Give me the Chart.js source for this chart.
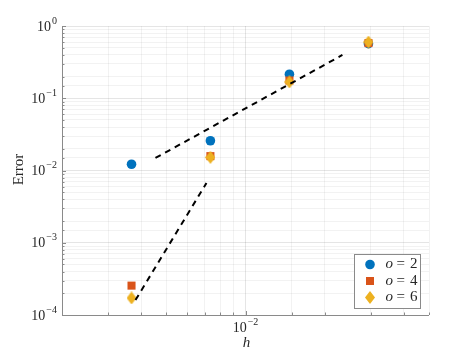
<!DOCTYPE html>
<html>
<head>
<meta charset="utf-8">
<script src="https://cdn.jsdelivr.net/npm/chart.js@4.4.1/dist/chart.umd.min.js"></script>
<style>
html,body{margin:0;padding:0;background:#fff;}
#wrap{width:474px;height:355px;position:relative;}
</style>
</head>
<body>
<div id="wrap"><canvas id="c" width="474" height="355"></canvas></div>
<script>
// ---- data ----
const hValues = [3.68e-3, 7.35e-3, 1.47e-2, 2.94e-2];
const errO2 = [0.0122, 0.0258, 0.215, 0.57];
const errO4 = [2.55e-4, 0.0158, 0.176, 0.58];
const errO6 = [1.72e-4, 0.0152, 0.168, 0.60];
const seriesLabels = ['2', '4', '6'];
const refLine2H = [4.54e-3, 2.34e-2];
const refLine2E = [0.0149, 0.397];
const refLine6H = [3.81e-3, 7.1e-3];
const refLine6E = [1.61e-4, 6.71e-3];
const yTickExps = [0, -1, -2, -3, -4];
const xTickExps = [-2];

const BLUE = '#0072BD', ORANGE = '#D95319', YELLOW = '#EDB120';
const SERIF = '"Liberation Serif", "DejaVu Serif", serif';

function diamondImg(w, h, color) {
  const c = document.createElement('canvas');
  c.width = w; c.height = h;
  const g = c.getContext('2d');
  g.fillStyle = color;
  g.beginPath();
  g.moveTo(w / 2, 0); g.lineTo(w, h / 2); g.lineTo(w / 2, h); g.lineTo(0, h / 2);
  g.closePath(); g.fill();
  return c;
}
const diamond = diamondImg(10, 13, YELLOW);

function pts(xs, ys) { return xs.map((x, i) => ({x: x, y: ys[i]})); }

function isMajor(v) {
  const l = Math.log10(v);
  return Math.abs(l - Math.round(l)) < 1e-6;
}

const customDraw = {
  id: 'customDraw',
  afterDraw(chart) {
    const ctx = chart.ctx;
    const xs = chart.scales.x, ys = chart.scales.y;
    const a = chart.chartArea;
    ctx.save();
    // axis lines
    ctx.strokeStyle = '#8a8a8a';
    ctx.lineWidth = 1;
    ctx.beginPath();
    ctx.moveTo(a.left + 0.5, a.top); ctx.lineTo(a.left + 0.5, a.bottom + 0.5);
    ctx.lineTo(a.right, a.bottom + 0.5);
    ctx.stroke();
    // inner ticks
    ctx.beginPath();
    ys.ticks.forEach(t => {
      const p = Math.round(ys.getPixelForValue(t.value)) + 0.5;
      const len = isMajor(t.value) ? 4 : 2.5;
      ctx.moveTo(a.left, p); ctx.lineTo(a.left + len, p);
    });
    xs.ticks.forEach(t => {
      const p = Math.round(xs.getPixelForValue(t.value)) + 0.5;
      const len = isMajor(t.value) ? 4 : 2.5;
      ctx.moveTo(p, a.bottom); ctx.lineTo(p, a.bottom - len);
    });
    ctx.stroke();
    // tick labels with superscripts
    ctx.fillStyle = '#262626';
    function sup(exp, x, y, align) {
      ctx.font = '14px ' + SERIF;
      const base = '10';
      ctx.font = '10px ' + SERIF;
      const e = exp === 0 ? '0' : '\u2212' + Math.abs(exp);
      const ew = ctx.measureText(e).width;
      ctx.font = '14px ' + SERIF;
      const bw = ctx.measureText(base).width;
      let x0;
      if (align === 'right') x0 = x - bw - ew - 1;
      else x0 = x - (bw + ew + 1) / 2;
      ctx.textBaseline = 'middle';
      ctx.textAlign = 'left';
      ctx.fillText(base, x0, y);
      ctx.font = '10px ' + SERIF;
      ctx.fillText(e, x0 + bw + 1, y - 6);
    }
    yTickExps.forEach(k => {
      sup(k, a.left - 5, ys.getPixelForValue(Math.pow(10, k)) + 1, 'right');
    });
    xTickExps.forEach(k => {
      sup(k, xs.getPixelForValue(Math.pow(10, k)), a.bottom + 13, 'center');
    });
    // axis titles
    ctx.font = '15px ' + SERIF;
    ctx.textAlign = 'center';
    ctx.textBaseline = 'middle';
    ctx.save();
    ctx.translate(19, (a.top + a.bottom) / 2 - 1);
    ctx.rotate(-Math.PI / 2);
    ctx.fillText('Error', 0, 0);
    ctx.restore();
    ctx.font = 'italic 15px ' + SERIF;
    ctx.fillText('h', (a.left + a.right) / 2 + 1, 343);
    // legend
    const lx = 354, ly = 254, lw = 66, lh = 54;
    ctx.fillStyle = '#fff';
    ctx.fillRect(lx, ly, lw, lh);
    ctx.strokeStyle = '#8a8a8a';
    ctx.strokeRect(lx + 0.5, ly + 0.5, lw, lh);
    const rows = [264.5, 281, 297.5];
    const mx = 370;
    // circle
    ctx.fillStyle = BLUE;
    ctx.beginPath(); ctx.arc(mx, rows[0], 4.8, 0, Math.PI * 2); ctx.fill();
    ctx.fillStyle = ORANGE;
    ctx.fillRect(mx - 4, rows[1] - 4, 8, 8);
    ctx.drawImage(diamond, mx - 5, rows[2] - 6.5);
    ctx.fillStyle = '#262626';
    rows.forEach((ry, i) => {
      ctx.textAlign = 'left';
      ctx.textBaseline = 'middle';
      ctx.font = 'italic 15px ' + SERIF;
      ctx.fillText('o', 385.5, ry);
      ctx.font = '15px ' + SERIF;
      ctx.fillText('=', 396.5, ry);
      ctx.fillText(seriesLabels[i], 410, ry);
    });
    ctx.restore();
  }
};

const gridColor = ctx => {
  const v = ctx.tick && ctx.tick.value;
  return v && isMajor(v) ? 'rgba(0,0,0,0.10)' : 'rgba(0,0,0,0.05)';
};

new Chart(document.getElementById('c'), {
  type: 'scatter',
  data: {
    datasets: [
      {label: 'ref2', data: pts(refLine2H, refLine2E), showLine: true, borderColor: '#000', borderWidth: 2, borderDash: [6, 5], pointRadius: 0, order: 0},
      {label: 'ref6', data: pts(refLine6H, refLine6E), showLine: true, borderColor: '#000', borderWidth: 2, borderDash: [6, 5], pointRadius: 0, order: 0},
      {label: 'o = 6', data: pts(hValues, errO6), pointStyle: diamond, pointRadius: 6, backgroundColor: YELLOW, borderWidth: 0, order: 1},
      {label: 'o = 4', data: pts(hValues, errO4), pointStyle: 'rect', pointRadius: 5.7, backgroundColor: ORANGE, borderWidth: 0, order: 2},
      {label: 'o = 2', data: pts(hValues, errO2), pointStyle: 'circle', pointRadius: 4.8, backgroundColor: BLUE, borderWidth: 0, order: 3}
    ]
  },
  options: {
    responsive: false,
    animation: false,
    events: [],
    layout: {padding: {left: 0, right: 45, top: 26, bottom: 0}},
    plugins: {legend: {display: false}, tooltip: {enabled: false}},
    scales: {
      x: {
        type: 'logarithmic', min: 2e-3, max: 5e-2,
        border: {display: false},
        grid: {color: gridColor, drawTicks: false, lineWidth: 1},
        ticks: {display: false, autoSkip: false, callback: () => ''},
        afterFit: s => { s.height = 40; }
      },
      y: {
        type: 'logarithmic', min: 1e-4, max: 1,
        border: {display: false},
        grid: {color: gridColor, drawTicks: false, lineWidth: 1},
        ticks: {display: false, autoSkip: false, callback: () => ''},
        afterFit: s => { s.width = 62; }
      }
    }
  },
  plugins: [customDraw]
});
</script>
</body>
</html>
